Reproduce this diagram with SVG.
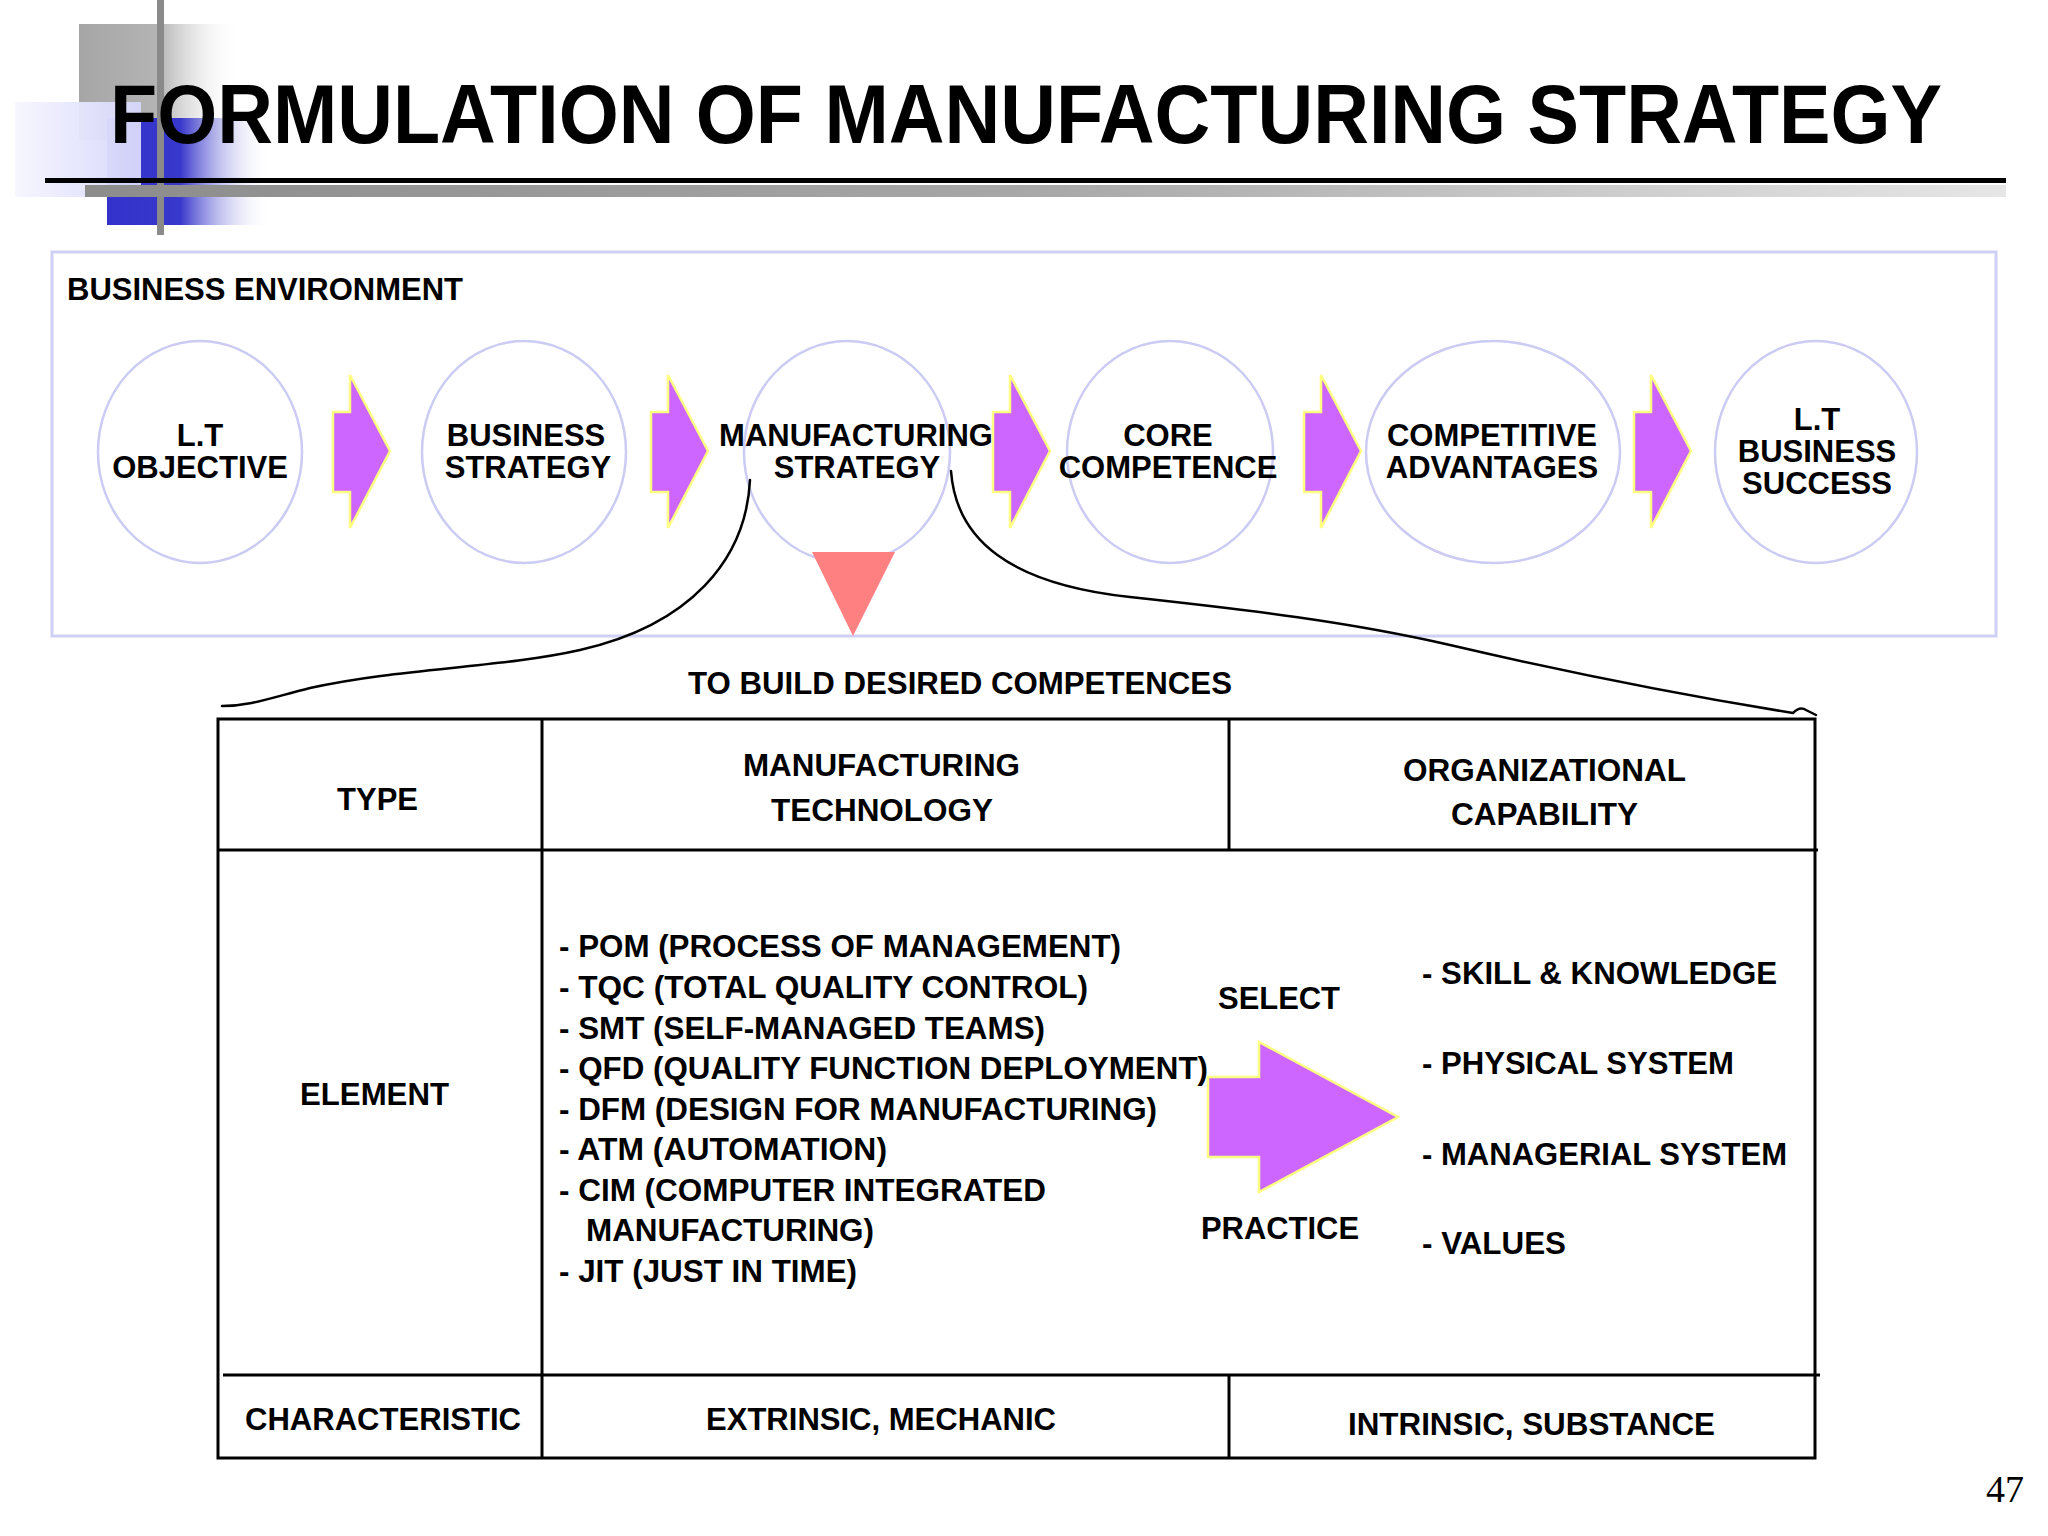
<svg xmlns="http://www.w3.org/2000/svg" width="2048" height="1536" viewBox="0 0 2048 1536">
  <defs>
    <linearGradient id="gGrey" x1="0" y1="0" x2="1" y2="0">
      <stop offset="0" stop-color="#a6a6a6"/>
      <stop offset="0.5" stop-color="#b4b4b4"/>
      <stop offset="1" stop-color="#ffffff" stop-opacity="0"/>
    </linearGradient>
    <linearGradient id="gBlue" x1="0" y1="0" x2="1" y2="0">
      <stop offset="0" stop-color="#3333cc"/>
      <stop offset="0.45" stop-color="#3838cc"/>
      <stop offset="1" stop-color="#ffffff" stop-opacity="0"/>
    </linearGradient>
    <linearGradient id="gLav" x1="0" y1="0" x2="1" y2="0">
      <stop offset="0" stop-color="#f6f6ff"/>
      <stop offset="1" stop-color="#d6d6fb"/>
    </linearGradient>
    <linearGradient id="gBar" x1="0" y1="0" x2="1" y2="0">
      <stop offset="0" stop-color="#8c8c8c"/>
      <stop offset="0.5" stop-color="#a8a8a8"/>
      <stop offset="1" stop-color="#e6e6e6"/>
    </linearGradient>
    <path id="smallArrow" d="M0,37 H17 V0 L57,76 L17,153 V117 H0 Z"/>
  </defs>
  <style>
    text { font-family: "Liberation Sans", Arial, sans-serif; font-weight: bold; fill: #000; }
    .title { font-size: 84px; }
    .ct { font-size: 31px; text-anchor: middle; }
    .tt { font-size: 31px; }
    .env { fill: none; stroke: #cfcff5; stroke-width: 3; }
    .circ { fill: #ffffff; stroke: #cbcbf3; stroke-width: 2.5; }
    .arr { fill: #cc66ff; stroke: #ffff80; stroke-width: 2.5; stroke-linejoin: miter; }
    .tbl { stroke: #000; stroke-width: 3; fill: none; }
    .conn { fill: none; stroke: #000; stroke-width: 2.5; stroke-linecap: round; }
    .pg { font-family: "Liberation Serif", "Times New Roman", serif; font-weight: normal; font-size: 38px; }
  </style>
  <rect width="2048" height="1536" fill="#ffffff"/>

  <g id="header-decoration">
    <rect x="79" y="24" width="161" height="116" fill="url(#gGrey)"/>
    <rect x="107" y="118" width="163" height="107" fill="url(#gBlue)"/>
    <rect x="15" y="102" width="126" height="95" fill="url(#gLav)" opacity="0.96"/>
    <rect x="157" y="0" width="7" height="235" fill="#8a8a8a"/>
    <rect x="85" y="185" width="1921" height="12" fill="url(#gBar)"/>
    <rect x="45" y="178" width="1961" height="5" fill="#000"/>
  </g>
  <text id="title" class="title" x="110" y="143" textLength="1832" lengthAdjust="spacingAndGlyphs">FORMULATION OF MANUFACTURING STRATEGY</text>

  <g id="business-environment">
    <rect class="env" x="52" y="252" width="1944" height="384"/>
    <text class="tt" x="67" y="300" textLength="396" lengthAdjust="spacingAndGlyphs">BUSINESS ENVIRONMENT</text>
  </g>

  <g id="node-lt-objective">
    <ellipse class="circ" cx="200" cy="452" rx="102" ry="111"/>
    <text class="ct" x="200" y="446">L.T</text>
    <text class="ct" x="200" y="478">OBJECTIVE</text>
  </g>
  <g id="node-business-strategy">
    <ellipse class="circ" cx="524" cy="452" rx="102" ry="111"/>
    <text class="ct" x="526" y="446">BUSINESS</text>
    <text class="ct" x="528" y="478">STRATEGY</text>
  </g>
  <g id="node-manufacturing-strategy">
    <ellipse class="circ" cx="847" cy="452" rx="103" ry="111"/>
    <text class="ct" x="856" y="446">MANUFACTURING</text>
    <text class="ct" x="857" y="478">STRATEGY</text>
  </g>
  <g id="node-core-competence">
    <ellipse class="circ" cx="1170" cy="452" rx="103" ry="111"/>
    <text class="ct" x="1168" y="446">CORE</text>
    <text class="ct" x="1168" y="478">COMPETENCE</text>
  </g>
  <g id="node-competitive-advantages">
    <ellipse class="circ" cx="1493" cy="452" rx="127" ry="111"/>
    <text class="ct" x="1492" y="446">COMPETITIVE</text>
    <text class="ct" x="1492" y="478">ADVANTAGES</text>
  </g>
  <g id="node-lt-business-success">
    <ellipse class="circ" cx="1816" cy="452" rx="101" ry="111"/>
    <text class="ct" x="1817" y="430">L.T</text>
    <text class="ct" x="1817" y="462">BUSINESS</text>
    <text class="ct" x="1817" y="494">SUCCESS</text>
  </g>

  <g id="flow-arrows">
    <use href="#smallArrow" class="arr" x="333" y="375"/>
    <use href="#smallArrow" class="arr" x="651" y="375"/>
    <use href="#smallArrow" class="arr" x="993" y="375"/>
    <use href="#smallArrow" class="arr" x="1304" y="375"/>
    <use href="#smallArrow" class="arr" x="1634" y="375"/>
  </g>

  <g id="connectors">
    <path class="conn" d="M750,480 C746,560 690,625 580,650 C500,668 400,668 310,688 C270,698 250,706 222,706"/>
    <path class="conn" d="M951,471 C956,540 1010,584 1130,597 C1250,610 1350,622 1450,645 C1600,680 1700,698 1793,713 Q1800,706 1806,710 L1816,715"/>
    <polygon id="down-triangle" points="812,552 895,552 853,636" fill="#ff8080"/>
  </g>

  <text id="to-build" class="tt" x="688" y="694" textLength="544" lengthAdjust="spacingAndGlyphs">TO BUILD DESIRED COMPETENCES</text>

  <g id="table">
    <rect class="tbl" x="218" y="719" width="1597" height="739"/>
    <line class="tbl" x1="218" y1="850" x2="1818" y2="850"/>
    <line class="tbl" x1="223" y1="1375" x2="1820" y2="1375"/>
    <line class="tbl" x1="542" y1="719" x2="542" y2="1458"/>
    <line class="tbl" x1="1229" y1="719" x2="1229" y2="850"/>
    <line class="tbl" x1="1229" y1="1375" x2="1229" y2="1458"/>
  </g>

  <g id="row-type">
    <text class="tt" x="337" y="810" textLength="81" lengthAdjust="spacingAndGlyphs">TYPE</text>
    <text class="tt" x="743" y="776" textLength="277" lengthAdjust="spacingAndGlyphs">MANUFACTURING</text>
    <text class="tt" x="771" y="821" textLength="222" lengthAdjust="spacingAndGlyphs">TECHNOLOGY</text>
    <text class="tt" x="1403" y="781" textLength="283" lengthAdjust="spacingAndGlyphs">ORGANIZATIONAL</text>
    <text class="tt" x="1451" y="825" textLength="187" lengthAdjust="spacingAndGlyphs">CAPABILITY</text>
  </g>

  <g id="row-element">
    <text class="tt" x="300" y="1105" textLength="149" lengthAdjust="spacingAndGlyphs">ELEMENT</text>
    <text class="tt" x="559" y="957" textLength="562" lengthAdjust="spacingAndGlyphs">- POM (PROCESS OF MANAGEMENT)</text>
    <text class="tt" x="559" y="998" textLength="529" lengthAdjust="spacingAndGlyphs">- TQC (TOTAL QUALITY CONTROL)</text>
    <text class="tt" x="559" y="1039" textLength="486" lengthAdjust="spacingAndGlyphs">- SMT (SELF-MANAGED TEAMS)</text>
    <text class="tt" x="559" y="1079" textLength="649" lengthAdjust="spacingAndGlyphs">- QFD (QUALITY FUNCTION DEPLOYMENT)</text>
    <text class="tt" x="559" y="1120" textLength="598" lengthAdjust="spacingAndGlyphs">- DFM (DESIGN FOR MANUFACTURING)</text>
    <text class="tt" x="559" y="1160" textLength="328" lengthAdjust="spacingAndGlyphs">- ATM (AUTOMATION)</text>
    <text class="tt" x="559" y="1201" textLength="487" lengthAdjust="spacingAndGlyphs">- CIM (COMPUTER INTEGRATED</text>
    <text class="tt" x="586" y="1241" textLength="288" lengthAdjust="spacingAndGlyphs">MANUFACTURING)</text>
    <text class="tt" x="559" y="1282" textLength="298" lengthAdjust="spacingAndGlyphs">- JIT (JUST IN TIME)</text>

    <text class="tt" x="1218" y="1009" textLength="122" lengthAdjust="spacingAndGlyphs">SELECT</text>
    <polygon id="select-arrow" class="arr" points="1208,1077 1259,1077 1259,1042 1398,1117 1259,1192 1259,1157 1208,1157"/>
    <text class="tt" x="1201" y="1239" textLength="158" lengthAdjust="spacingAndGlyphs">PRACTICE</text>

    <text class="tt" x="1422" y="984" textLength="355" lengthAdjust="spacingAndGlyphs">- SKILL &amp; KNOWLEDGE</text>
    <text class="tt" x="1422" y="1074" textLength="312" lengthAdjust="spacingAndGlyphs">- PHYSICAL SYSTEM</text>
    <text class="tt" x="1422" y="1165" textLength="365" lengthAdjust="spacingAndGlyphs">- MANAGERIAL SYSTEM</text>
    <text class="tt" x="1422" y="1254" textLength="144" lengthAdjust="spacingAndGlyphs">- VALUES</text>
  </g>

  <g id="row-characteristic">
    <text class="tt" x="245" y="1430" textLength="276" lengthAdjust="spacingAndGlyphs">CHARACTERISTIC</text>
    <text class="tt" x="706" y="1430" textLength="350" lengthAdjust="spacingAndGlyphs">EXTRINSIC, MECHANIC</text>
    <text class="tt" x="1348" y="1435" textLength="367" lengthAdjust="spacingAndGlyphs">INTRINSIC, SUBSTANCE</text>
  </g>

  <text id="page-number" class="pg" x="1986" y="1502">47</text>
</svg>
